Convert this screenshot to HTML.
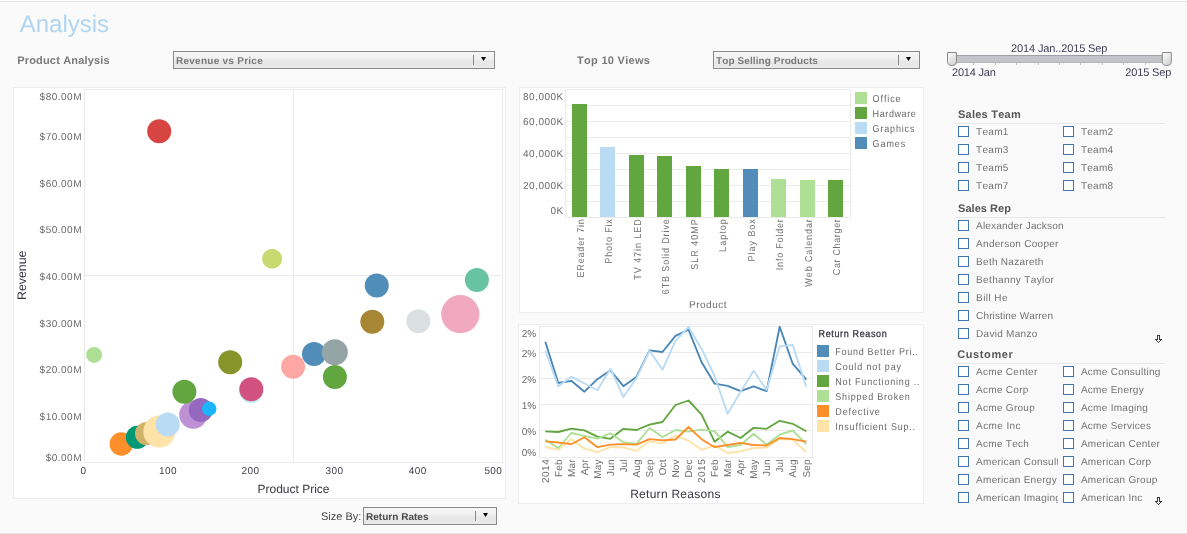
<!DOCTYPE html>
<html lang="en">
<head>
<meta charset="utf-8">
<title>Analysis</title>
<style>
html,body{margin:0;padding:0;}
*{text-rendering:geometricPrecision;font-kerning:none;font-variant-ligatures:none;}
body{width:1187px;height:534px;overflow:hidden;background:#fafafa;font-family:"Liberation Sans", Arial, sans-serif;position:relative;}
#page{position:absolute;left:0;top:0;width:1187px;height:534px;overflow:hidden;background:#fafafa;}
.edge{position:absolute;left:0;width:1187px;height:1px;}
.abs{position:absolute;white-space:nowrap;}
h1{position:absolute;margin:0;left:19.7px;top:11px;font-size:24px;line-height:28px;font-weight:normal;color:#b0d5f2;white-space:nowrap;}
.lbl{position:absolute;font-size:11px;line-height:14px;font-weight:bold;color:#7a7a7a;white-space:nowrap;letter-spacing:0.16px;}
.combo{position:absolute;box-sizing:border-box;height:18px;border:1px solid #898989;background:linear-gradient(#f5f5f5 0,#f1f1f1 42%,#e8e8e8 58%,#e8e8e8 90%,#ececec 100%);font-size:10px;line-height:16px;font-weight:bold;color:#7a7a7a;white-space:nowrap;letter-spacing:0.26px;}
.combo span{position:absolute;left:2px;top:2px;}
.combo i{position:absolute;right:20px;top:3px;width:1px;height:10px;background:#888;}
.combo b{position:absolute;right:8px;top:5px;width:5px;height:4px;background:#000;clip-path:polygon(0 0,5px 0,2.5px 4px);}
.panel{position:absolute;box-sizing:border-box;background:#fff;border:1px solid #eeeeee;}
.panel svg{position:absolute;left:-1px;top:-1px;font-family:"Liberation Sans", Arial, sans-serif;}
svg text{font-family:"Liberation Sans", Arial, sans-serif;}
.sec{position:absolute;left:955px;width:210px;}
.sec h2{position:absolute;margin:0;left:3px;top:1px;font-size:11px;line-height:14px;font-weight:bold;color:#565656;white-space:nowrap;letter-spacing:0.2px;}
.sec hr{position:absolute;margin:0;border:0;left:0;top:16px;width:210px;height:1px;background:#e8e8e8;}
.sec ul{position:absolute;list-style:none;margin:0;padding:0;left:0;top:19px;width:210px;}
.sec li{position:absolute;height:18px;font-size:10px;line-height:12px;color:#727272;white-space:nowrap;overflow:hidden;letter-spacing:0.28px;}
.sec li i{position:absolute;left:3px;top:0;box-sizing:border-box;width:11px;height:11px;border:1px solid #3f74b5;background:#fff;}
.sec li span{position:absolute;left:21.1px;top:1px;}
.more{position:absolute;width:7px;height:8px;}
</style>
</head>
<body>
<div id="page">
<div class="edge" style="top:0;background:#fff"></div>
<div class="edge" style="top:1px;background:#e8e8e8"></div>
<div class="edge" style="top:533px;background:#e6e6e6"></div>
<h1>Analysis</h1>

<div class="lbl" style="left:17.3px;top:54px">Product Analysis</div>
<div class="combo" style="left:173px;top:51px;width:322px"><span>Revenue vs Price</span><i></i><b></b></div>
<div class="lbl" style="left:577px;top:54px;letter-spacing:0.3px">Top 10 Views</div>
<div class="combo" style="left:713px;top:51px;width:207px;letter-spacing:0.1px"><span>Top Selling Products</span><i></i><b></b></div>
<div class="abs" style="left:321px;top:510px;font-size:11px;line-height:14px;color:#484848">Size By:</div>
<div class="combo" style="left:363px;top:507px;width:134px;color:#4a4a4a;letter-spacing:0.02px"><span>Return Rates</span><i></i><b></b></div>
<div class="panel" style="left:13px;top:87px;width:493px;height:412px">
<svg width="493" height="412" viewBox="13 87 493 412">
<g shape-rendering="crispEdges" fill="none" stroke="#ebebeb" stroke-width="1">
<rect x="84.5" y="89.5" width="418" height="373"/>
<line x1="85" y1="275.5" x2="502" y2="275.5" stroke="#ebebeb"/>
<line x1="293.5" y1="90" x2="293.5" y2="462" stroke="#ebebeb"/>
</g>
<g>
<text x="82" y="100.3" font-size="10" fill="#696969" text-anchor="end" letter-spacing="0.5">$80.00M</text>
<text x="82" y="140" font-size="10" fill="#696969" text-anchor="end" letter-spacing="0.5">$70.00M</text>
<text x="82" y="186.7" font-size="10" fill="#696969" text-anchor="end" letter-spacing="0.5">$60.00M</text>
<text x="82" y="233.3" font-size="10" fill="#696969" text-anchor="end" letter-spacing="0.5">$50.00M</text>
<text x="82" y="280" font-size="10" fill="#696969" text-anchor="end" letter-spacing="0.5">$40.00M</text>
<text x="82" y="326.7" font-size="10" fill="#696969" text-anchor="end" letter-spacing="0.5">$30.00M</text>
<text x="82" y="373.3" font-size="10" fill="#696969" text-anchor="end" letter-spacing="0.5">$20.00M</text>
<text x="82" y="420" font-size="10" fill="#696969" text-anchor="end" letter-spacing="0.5">$10.00M</text>
<text x="82" y="461" font-size="10" fill="#696969" text-anchor="end" letter-spacing="0.5">$0.00M</text>
</g>
<g>
<text x="83.5" y="474.3" font-size="10" fill="#3c3c4a" text-anchor="middle" letter-spacing="0.4">0</text>
<text x="168" y="474.3" font-size="10" fill="#3c3c4a" text-anchor="middle" letter-spacing="0.4">100</text>
<text x="250.5" y="474.3" font-size="10" fill="#3c3c4a" text-anchor="middle" letter-spacing="0.4">200</text>
<text x="334.5" y="474.3" font-size="10" fill="#3c3c4a" text-anchor="middle" letter-spacing="0.4">300</text>
<text x="417.7" y="474.3" font-size="10" fill="#3c3c4a" text-anchor="middle" letter-spacing="0.4">400</text>
<text x="502.3" y="474.3" font-size="10" fill="#3c3c4a" text-anchor="end" letter-spacing="0.4">500</text>
</g>
<text x="293.5" y="493" font-size="12" fill="#363642" text-anchor="middle">Product Price</text>
<text transform="translate(26 275.3) rotate(-90)" font-size="12.3" fill="#363642" text-anchor="middle">Revenue</text>
<g>
<circle cx="159.2" cy="131.25" r="12" fill="#d64541"/>
<circle cx="272.1" cy="258.8" r="10" fill="#c8d96f"/>
<circle cx="94.1" cy="354.9" r="8" fill="#ade095"/>
<circle cx="376.75" cy="285.6" r="12" fill="#518db9"/>
<circle cx="476.9" cy="280" r="12" fill="#68c3a3"/>
<circle cx="372.3" cy="321.75" r="12" fill="#a88734"/>
<circle cx="418.4" cy="321.2" r="12" fill="#dadfe1"/>
<circle cx="460.3" cy="314.2" r="19.1" fill="#f1a9c0"/>
<circle cx="314" cy="354.1" r="12" fill="#518db9"/>
<circle cx="334.9" cy="377" r="12" fill="#62a640"/>
<circle cx="334.8" cy="352.25" r="13" fill="#95a5a6"/>
<circle cx="293.1" cy="366.75" r="12" fill="#fda7a5"/>
<circle cx="230.2" cy="362.3" r="12" fill="#86942a"/>
<circle cx="251.3" cy="391.3" r="12" fill="#c5eff7"/>
<circle cx="251.3" cy="389.2" r="12" fill="#d2527f"/>
<circle cx="121.3" cy="444.0" r="11.7" fill="#fc8f2a"/>
<circle cx="137.3" cy="437.3" r="11.5" fill="#019875"/>
<circle cx="146.5" cy="433.5" r="11.5" fill="#d1b269"/>
<circle cx="159.3" cy="431.5" r="16" fill="#fde3a7"/>
<circle cx="167.75" cy="424.4" r="12" fill="#b9dbf4"/>
<circle cx="193.2" cy="414.8" r="14" fill="#be90d4"/>
<circle cx="184.4" cy="391.8" r="12" fill="#62a640"/>
<circle cx="200.8" cy="410" r="12" fill="#9368be"/>
<circle cx="209.25" cy="408.75" r="7.2" fill="#19b5fe"/>
</g>
</svg></div>
<div class="panel" style="left:519px;top:87px;width:405px;height:226px">
<svg width="405" height="226" viewBox="519 87 405 226">
<g shape-rendering="crispEdges" fill="none" stroke="#ebebeb" stroke-width="1">
<rect x="565.5" y="89.5" width="285" height="128"/>
<line x1="566" y1="105.5" x2="850" y2="105.5" stroke="#ebebeb"/>
<line x1="566" y1="121.5" x2="850" y2="121.5" stroke="#ebebeb"/>
<line x1="566" y1="137.5" x2="850" y2="137.5" stroke="#ebebeb"/>
<line x1="566" y1="153.5" x2="850" y2="153.5" stroke="#ebebeb"/>
<line x1="566" y1="169.5" x2="850" y2="169.5" stroke="#ebebeb"/>
<line x1="566" y1="185.5" x2="850" y2="185.5" stroke="#ebebeb"/>
<line x1="566" y1="201.5" x2="850" y2="201.5" stroke="#ebebeb"/>
</g>
<g>
<text x="563.8" y="100" font-size="10" fill="#696969" text-anchor="end" letter-spacing="0.5">80,000K</text>
<text x="563.8" y="125" font-size="10" fill="#696969" text-anchor="end" letter-spacing="0.5">60,000K</text>
<text x="563.8" y="156.8" font-size="10" fill="#696969" text-anchor="end" letter-spacing="0.5">40,000K</text>
<text x="563.8" y="188.8" font-size="10" fill="#696969" text-anchor="end" letter-spacing="0.5">20,000K</text>
<text x="563.8" y="214" font-size="10" fill="#696969" text-anchor="end" letter-spacing="0.5">0K</text>
</g>
<g shape-rendering="crispEdges">
<rect x="572" y="104" width="15" height="113" fill="#62a640"/>
<rect x="600" y="147" width="15" height="70" fill="#b9dbf4"/>
<rect x="629" y="155" width="15" height="62" fill="#62a640"/>
<rect x="657" y="156" width="15" height="61" fill="#62a640"/>
<rect x="686" y="166" width="15" height="51" fill="#62a640"/>
<rect x="714" y="169" width="15" height="48" fill="#62a640"/>
<rect x="743" y="169" width="15" height="48" fill="#518db9"/>
<rect x="771" y="179" width="15" height="38" fill="#ade095"/>
<rect x="800" y="180" width="15" height="37" fill="#ade095"/>
<rect x="828" y="180" width="15" height="37" fill="#62a640"/>
</g>
<g>
<text transform="translate(584.2 219.2) rotate(-90) scale(0.9 1)" font-size="10" fill="#747474" text-anchor="end" textLength="64.78" lengthAdjust="spacing">EReader 7in</text>
<text transform="translate(612.2 219.2) rotate(-90) scale(0.9 1)" font-size="10" fill="#747474" text-anchor="end" textLength="49.44" lengthAdjust="spacing">Photo Fix</text>
<text transform="translate(641.2 219.2) rotate(-90) scale(0.9 1)" font-size="10" fill="#747474" text-anchor="end" textLength="67.22" lengthAdjust="spacing">TV 47in LED</text>
<text transform="translate(669.2 219.2) rotate(-90) scale(0.9 1)" font-size="10" fill="#747474" text-anchor="end" textLength="83.33" lengthAdjust="spacing">6TB Solid Drive</text>
<text transform="translate(698.2 219.2) rotate(-90) scale(0.9 1)" font-size="10" fill="#747474" text-anchor="end" textLength="56.11" lengthAdjust="spacing">SLR 40MP</text>
<text transform="translate(726.2 219.2) rotate(-90) scale(0.9 1)" font-size="10" fill="#747474" text-anchor="end" textLength="36.33" lengthAdjust="spacing">Laptop</text>
<text transform="translate(755.2 219.2) rotate(-90) scale(0.9 1)" font-size="10" fill="#747474" text-anchor="end" textLength="46.89" lengthAdjust="spacing">Play Box</text>
<text transform="translate(783.2 219.2) rotate(-90) scale(0.9 1)" font-size="10" fill="#747474" text-anchor="end" textLength="56.67" lengthAdjust="spacing">Info Folder</text>
<text transform="translate(812.2 219.2) rotate(-90) scale(0.9 1)" font-size="10" fill="#747474" text-anchor="end" textLength="75.00" lengthAdjust="spacing">Web Calendar</text>
<text transform="translate(840.2 219.2) rotate(-90) scale(0.9 1)" font-size="10" fill="#747474" text-anchor="end" textLength="62.22" lengthAdjust="spacing">Car Charger</text>
</g>
<text x="708" y="308" font-size="10" fill="#6e6e6e" text-anchor="middle" letter-spacing="0.5">Product</text>
<g>
<rect x="855" y="92" width="12" height="12" fill="#ade095" shape-rendering="crispEdges"/>
<text transform="translate(872.6 102) scale(0.9 1)" font-size="10" fill="#686868" textLength="31.11" lengthAdjust="spacing">Office</text>
<rect x="855" y="107" width="12" height="12" fill="#62a640" shape-rendering="crispEdges"/>
<text transform="translate(872.6 117) scale(0.9 1)" font-size="10" fill="#686868" textLength="48.00" lengthAdjust="spacing">Hardware</text>
<rect x="855" y="122" width="12" height="12" fill="#b9dbf4" shape-rendering="crispEdges"/>
<text transform="translate(872.6 132) scale(0.9 1)" font-size="10" fill="#686868" textLength="46.44" lengthAdjust="spacing">Graphics</text>
<rect x="855" y="137" width="12" height="12" fill="#518db9" shape-rendering="crispEdges"/>
<text transform="translate(872.6 147) scale(0.9 1)" font-size="10" fill="#686868" textLength="36.33" lengthAdjust="spacing">Games</text>
</g>
</svg></div>
<div class="panel" style="left:518px;top:324px;width:406px;height:180px">
<svg width="406" height="180" viewBox="518 324 406 180">
<g shape-rendering="crispEdges" fill="none" stroke="#ebebeb" stroke-width="1">
<rect x="539.5" y="326.5" width="273" height="131"/>
<line x1="540" y1="352.5" x2="812" y2="352.5" stroke="#ebebeb"/>
<line x1="540" y1="378.5" x2="812" y2="378.5" stroke="#ebebeb"/>
<line x1="540" y1="404.5" x2="812" y2="404.5" stroke="#ebebeb"/>
<line x1="540" y1="430.5" x2="812" y2="430.5" stroke="#ebebeb"/>
</g>
<g>
<text x="536.2" y="337" font-size="10" fill="#696969" text-anchor="end">2%</text>
<text x="536.2" y="357" font-size="10" fill="#696969" text-anchor="end">2%</text>
<text x="536.2" y="383" font-size="10" fill="#696969" text-anchor="end">2%</text>
<text x="536.2" y="409" font-size="10" fill="#696969" text-anchor="end">1%</text>
<text x="536.2" y="435" font-size="10" fill="#696969" text-anchor="end">0%</text>
<text x="536.2" y="456" font-size="10" fill="#696969" text-anchor="end">0%</text>
</g>
<g fill="none" stroke-width="1.85" stroke-linejoin="round" stroke-linecap="butt">
<polyline points="545.3,447.0 558.3,449.7 571.3,439.2 584.4,448.7 597.4,452.2 610.4,447.0 623.4,447.5 636.4,450.8 649.5,441.3 662.5,443.3 675.5,435.6 688.5,440.8 701.5,449.8 714.6,445.3 727.6,453.0 740.6,451.3 753.6,448.0 766.6,447.5 779.7,439.0 792.7,439.7 806.3,452.0" stroke="#fde3a7"/>
<polyline points="545.3,341.7 558.3,383.0 571.3,380.8 584.4,391.7 597.4,379.2 610.4,370.3 623.4,386.2 636.4,377.0 649.5,350.3 662.5,352.0 675.5,335.8 688.5,329.7 701.5,362.0 714.6,383.7 727.6,385.8 740.6,391.2 753.6,386.3 766.6,391.2 779.7,326.7 792.7,363.7 806.3,379.7" stroke="#4a86b5"/>
<polyline points="545.3,350.8 558.3,386.3 571.3,376.7 584.4,383.3 597.4,390.3 610.4,368.7 623.4,397.0 636.4,378.3 649.5,350.8 662.5,369.7 675.5,340.8 688.5,327.0 701.5,348.7 714.6,376.0 727.6,413.7 740.6,391.7 753.6,370.8 766.6,390.0 779.7,346.3 792.7,345.0 806.3,387.0" stroke="#b9dbf4"/>
<polyline points="545.3,431.3 558.3,432.0 571.3,428.7 584.4,430.3 597.4,436.7 610.4,438.8 623.4,428.8 636.4,430.0 649.5,424.7 662.5,422.0 675.5,405.0 688.5,400.5 701.5,414.4 714.6,441.7 727.6,431.7 740.6,438.0 753.6,427.8 766.6,428.8 779.7,420.8 792.7,423.8 806.3,431.2" stroke="#62a640"/>
<polyline points="545.3,439.7 558.3,448.0 571.3,433.0 584.4,435.8 597.4,438.7 610.4,433.3 623.4,442.2 636.4,443.8 649.5,428.0 662.5,437.0 675.5,430.0 688.5,431.7 701.5,429.6 714.6,431.2 727.6,447.2 740.6,445.0 753.6,433.7 766.6,444.7 779.7,434.7 792.7,430.5 806.3,444.2" stroke="#ade095"/>
<polyline points="545.3,441.3 558.3,442.5 571.3,444.2 584.4,437.2 597.4,447.2 610.4,444.7 623.4,444.2 636.4,444.7 649.5,439.2 662.5,440.3 675.5,439.5 688.5,427.0 701.5,439.2 714.6,447.2 727.6,445.0 740.6,442.8 753.6,445.0 766.6,445.5 779.7,438.0 792.7,439.2 806.3,441.7" stroke="#fc8f2a"/>
</g>
<g>
<text transform="translate(548.9 458.8) rotate(-90)" font-size="10" fill="#6e6e6e" text-anchor="end" letter-spacing="0.5">2014</text>
<text transform="translate(561.9 459.2) rotate(-90)" font-size="10" fill="#6e6e6e" text-anchor="end" letter-spacing="0.2">Feb</text>
<text transform="translate(574.9 459.2) rotate(-90)" font-size="10" fill="#6e6e6e" text-anchor="end" letter-spacing="0.2">Mar</text>
<text transform="translate(588.0 459.2) rotate(-90)" font-size="10" fill="#6e6e6e" text-anchor="end" letter-spacing="0.2">Apr</text>
<text transform="translate(601.0 459.2) rotate(-90)" font-size="10" fill="#6e6e6e" text-anchor="end" letter-spacing="0.2">May</text>
<text transform="translate(614.0 459.2) rotate(-90)" font-size="10" fill="#6e6e6e" text-anchor="end" letter-spacing="0.2">Jun</text>
<text transform="translate(627.0 459.2) rotate(-90)" font-size="10" fill="#6e6e6e" text-anchor="end" letter-spacing="0.2">Jul</text>
<text transform="translate(640.0 459.2) rotate(-90)" font-size="10" fill="#6e6e6e" text-anchor="end" letter-spacing="0.2">Aug</text>
<text transform="translate(653.1 459.2) rotate(-90)" font-size="10" fill="#6e6e6e" text-anchor="end" letter-spacing="0.2">Sep</text>
<text transform="translate(666.1 459.2) rotate(-90)" font-size="10" fill="#6e6e6e" text-anchor="end" letter-spacing="0.2">Oct</text>
<text transform="translate(679.1 459.2) rotate(-90)" font-size="10" fill="#6e6e6e" text-anchor="end" letter-spacing="0.2">Nov</text>
<text transform="translate(692.1 459.2) rotate(-90)" font-size="10" fill="#6e6e6e" text-anchor="end" letter-spacing="0.2">Dec</text>
<text transform="translate(705.1 458.8) rotate(-90)" font-size="10" fill="#6e6e6e" text-anchor="end" letter-spacing="0.5">2015</text>
<text transform="translate(718.2 459.2) rotate(-90)" font-size="10" fill="#6e6e6e" text-anchor="end" letter-spacing="0.2">Feb</text>
<text transform="translate(731.2 459.2) rotate(-90)" font-size="10" fill="#6e6e6e" text-anchor="end" letter-spacing="0.2">Mar</text>
<text transform="translate(744.2 459.2) rotate(-90)" font-size="10" fill="#6e6e6e" text-anchor="end" letter-spacing="0.2">Apr</text>
<text transform="translate(757.2 459.2) rotate(-90)" font-size="10" fill="#6e6e6e" text-anchor="end" letter-spacing="0.2">May</text>
<text transform="translate(770.2 459.2) rotate(-90)" font-size="10" fill="#6e6e6e" text-anchor="end" letter-spacing="0.2">Jun</text>
<text transform="translate(783.3 459.2) rotate(-90)" font-size="10" fill="#6e6e6e" text-anchor="end" letter-spacing="0.2">Jul</text>
<text transform="translate(796.3 459.2) rotate(-90)" font-size="10" fill="#6e6e6e" text-anchor="end" letter-spacing="0.2">Aug</text>
<text transform="translate(809.9 459.2) rotate(-90)" font-size="10" fill="#6e6e6e" text-anchor="end" letter-spacing="0.2">Sep</text>
</g>
<text x="630.2" y="498" font-size="12" fill="#363642" letter-spacing="0.27">Return Reasons</text>
<text transform="translate(818.5 337) scale(0.9 1)" font-size="10" fill="#2e2e3a" textLength="75.78" lengthAdjust="spacing" stroke="#2e2e3a" stroke-width="0.25">Return Reason</text>
<g>
<rect x="817" y="345" width="12" height="12" fill="#518db9" shape-rendering="crispEdges"/>
<text transform="translate(835.3 355) scale(0.9 1)" font-size="10" fill="#686868" textLength="91.78" lengthAdjust="spacing">Found Better Pri..</text>
<rect x="817" y="360" width="12" height="12" fill="#b9dbf4" shape-rendering="crispEdges"/>
<text transform="translate(835.3 370) scale(0.9 1)" font-size="10" fill="#686868" textLength="73.11" lengthAdjust="spacing">Could not pay</text>
<rect x="817" y="375" width="12" height="12" fill="#62a640" shape-rendering="crispEdges"/>
<text transform="translate(835.3 385) scale(0.9 1)" font-size="10" fill="#686868" textLength="93.67" lengthAdjust="spacing">Not Functioning ..</text>
<rect x="817" y="390" width="12" height="12" fill="#ade095" shape-rendering="crispEdges"/>
<text transform="translate(835.3 400) scale(0.9 1)" font-size="10" fill="#686868" textLength="82.78" lengthAdjust="spacing">Shipped Broken</text>
<rect x="817" y="405" width="12" height="12" fill="#fc8f2a" shape-rendering="crispEdges"/>
<text transform="translate(835.3 415) scale(0.9 1)" font-size="10" fill="#686868" textLength="49.44" lengthAdjust="spacing">Defective</text>
<rect x="817" y="420" width="12" height="12" fill="#fde3a7" shape-rendering="crispEdges"/>
<text transform="translate(835.3 430) scale(0.9 1)" font-size="10" fill="#686868" textLength="88.56" lengthAdjust="spacing">Insufficient Sup..</text>
</g>
</svg></div>
<div id="range" class="abs" style="left:940px;top:40px;width:240px;height:40px">
<svg width="240" height="40" viewBox="940 40 240 40" style="position:absolute;left:0;top:0">
<defs><linearGradient id="hg" x1="0" y1="0" x2="0.6" y2="1"><stop offset="0" stop-color="#ffffff"/><stop offset="1" stop-color="#d4d4d4"/></linearGradient></defs>
<g shape-rendering="crispEdges">
<rect x="948" y="55" width="223" height="8" fill="#c3c3ca"/>
<rect x="948" y="55" width="223" height="1" fill="#a0a0a6"/>
<rect x="948" y="62" width="223" height="1" fill="#b6b6bc"/>
<rect x="973" y="63" width="1" height="2" fill="#c4c4c4"/>
<rect x="995" y="63" width="1" height="2" fill="#c4c4c4"/>
<rect x="1016" y="63" width="1" height="2" fill="#c4c4c4"/>
<rect x="1038" y="63" width="1" height="2" fill="#c4c4c4"/>
<rect x="1059" y="63" width="1" height="2" fill="#c4c4c4"/>
<rect x="1080" y="63" width="1" height="2" fill="#c4c4c4"/>
<rect x="1102" y="63" width="1" height="2" fill="#c4c4c4"/>
<rect x="1123" y="63" width="1" height="2" fill="#c4c4c4"/>
<rect x="1145" y="63" width="1" height="2" fill="#c4c4c4"/>
</g>
<path d="M947.5 52.5 h9 v9 q0 4 -4.5 4 q-4.5 0 -4.5 -4 z" fill="url(#hg)" stroke="#8a8a8a" stroke-width="1"/>
<path d="M1162.3 52.5 h9 v9 q0 4 -4.5 4 q-4.5 0 -4.5 -4 z" fill="url(#hg)" stroke="#8a8a8a" stroke-width="1"/>
<text x="1011.1" y="52" font-size="11" fill="#3e3e55" letter-spacing="-0.13">2014 Jan..2015 Sep</text>
<text x="952" y="76" font-size="11" fill="#3e3e55" letter-spacing="-0.2">2014 Jan</text>
<text x="1125.2" y="76" font-size="11" fill="#3e3e55" letter-spacing="-0.12">2015 Sep</text>
</svg></div>
<div class="sec" style="top:107px;height:91px"><h2 style="left:3px;letter-spacing:0.24px">Sales Team</h2><hr><ul>
<li style="left:0px;top:0px;width:103px"><i></i><span>Team1</span></li>
<li style="left:105px;top:0px;width:105px"><i></i><span style="left:20.9px">Team2</span></li>
<li style="left:0px;top:18px;width:103px"><i></i><span>Team3</span></li>
<li style="left:105px;top:18px;width:105px"><i></i><span style="left:20.9px">Team4</span></li>
<li style="left:0px;top:36px;width:103px"><i></i><span>Team5</span></li>
<li style="left:105px;top:36px;width:105px"><i></i><span style="left:20.9px">Team6</span></li>
<li style="left:0px;top:54px;width:103px"><i></i><span>Team7</span></li>
<li style="left:105px;top:54px;width:105px"><i></i><span style="left:20.9px">Team8</span></li>
</ul></div>
<div class="sec" style="top:201px;height:145px"><h2 style="left:3px;letter-spacing:0.05px">Sales Rep</h2><hr><ul>
<li style="left:0px;top:0px;width:200px"><i></i><span style="letter-spacing:0.18px">Alexander Jackson</span></li>
<li style="left:0px;top:18px;width:200px"><i></i><span>Anderson Cooper</span></li>
<li style="left:0px;top:36px;width:200px"><i></i><span>Beth Nazareth</span></li>
<li style="left:0px;top:54px;width:200px"><i></i><span style="letter-spacing:0.36px">Bethanny Taylor</span></li>
<li style="left:0px;top:72px;width:200px"><i></i><span style="letter-spacing:0.42px">Bill He</span></li>
<li style="left:0px;top:90px;width:200px"><i></i><span style="letter-spacing:0.13px">Christine Warren</span></li>
<li style="left:0px;top:108px;width:200px"><i></i><span>David Manzo</span></li>
</ul></div>
<div class="sec" style="top:347px;height:163px"><h2 style="left:2.2px;letter-spacing:0.62px">Customer</h2><hr><ul>
<li style="left:0px;top:0px;width:103px"><i></i><span>Acme Center</span></li>
<li style="left:105px;top:0px;width:105px"><i></i><span style="left:20.9px">Acme Consulting</span></li>
<li style="left:0px;top:18px;width:103px"><i></i><span>Acme Corp</span></li>
<li style="left:105px;top:18px;width:105px"><i></i><span style="left:20.9px">Acme Energy</span></li>
<li style="left:0px;top:36px;width:103px"><i></i><span>Acme Group</span></li>
<li style="left:105px;top:36px;width:105px"><i></i><span style="left:20.9px">Acme Imaging</span></li>
<li style="left:0px;top:54px;width:103px"><i></i><span style="letter-spacing:0.4px">Acme Inc</span></li>
<li style="left:105px;top:54px;width:105px"><i></i><span style="left:20.9px">Acme Services</span></li>
<li style="left:0px;top:72px;width:103px"><i></i><span>Acme Tech</span></li>
<li style="left:105px;top:72px;width:105px"><i></i><span style="left:20.9px">American Center</span></li>
<li style="left:0px;top:90px;width:103px"><i></i><span>American Consulting</span></li>
<li style="left:105px;top:90px;width:105px"><i></i><span style="left:20.9px">American Corp</span></li>
<li style="left:0px;top:108px;width:103px"><i></i><span>American Energy</span></li>
<li style="left:105px;top:108px;width:105px"><i></i><span style="left:20.9px">American Group</span></li>
<li style="left:0px;top:126px;width:103px"><i></i><span>American Imaging</span></li>
<li style="left:105px;top:126px;width:105px"><i></i><span style="left:20.9px">American Inc</span></li>
</ul></div>
<svg class="more" style="left:1155px;top:335px" width="7" height="8" viewBox="0 0 7 8" shape-rendering="crispEdges"><path fill="#3a3a3a" d="M2 0h3v1h-3zM2 1h1v3h-1zM4 1h1v3h-1zM0 4h3v1h-3zM4 4h3v1h-3zM1 5h1v1h-1zM5 5h1v1h-1zM2 6h1v1h-1zM4 6h1v1h-1zM3 7h1v1h-1z"/><path fill="#fff" d="M3 1h1v4h-1zM2 5h3v1h-3zM3 6h1v1h-1z"/></svg>
<svg class="more" style="left:1155px;top:497px" width="7" height="8" viewBox="0 0 7 8" shape-rendering="crispEdges"><path fill="#3a3a3a" d="M2 0h3v1h-3zM2 1h1v3h-1zM4 1h1v3h-1zM0 4h3v1h-3zM4 4h3v1h-3zM1 5h1v1h-1zM5 5h1v1h-1zM2 6h1v1h-1zM4 6h1v1h-1zM3 7h1v1h-1z"/><path fill="#fff" d="M3 1h1v4h-1zM2 5h3v1h-3zM3 6h1v1h-1z"/></svg>
</div>
</body>
</html>
